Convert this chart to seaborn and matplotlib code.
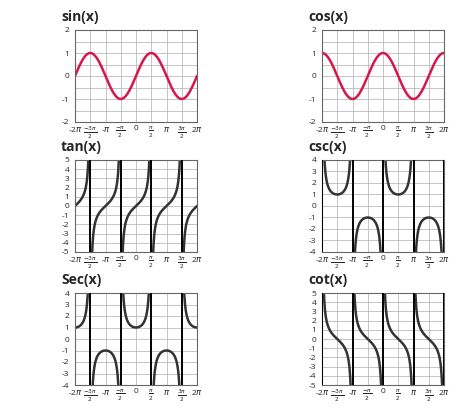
import numpy as np
import matplotlib
matplotlib.use("Agg")
import matplotlib.pyplot as plt
import seaborn as sns

sns.set_style("white")
plt.rcParams['font.family'] = ['Open Sans', 'DejaVu Sans']

titles = ["sin(x)", "cos(x)", "tan(x)", "csc(x)", "Sec(x)", "cot(x)"]
funcs = ["sin", "cos", "tan", "csc", "sec", "cot"]
ylims = [(-2, 2), (-2, 2), (-5, 5), (-4, 4), (-4, 4), (-5, 5)]
ygrid = [0.5, 0.5, 1, 1, 1, 1]
colors = ["#d6174a", "#d6174a", "#333333", "#333333", "#333333", "#333333"]
tick_pos = [-2, -1.5, -1, -0.5, 0, 0.5, 1, 1.5, 2]  # multiples of pi
tick_labels = [r"-2$\pi$", r"$\frac{-3\pi}{2}$", r"-$\pi$", r"$\frac{-\pi}{2}$", "0",
               r"$\frac{\pi}{2}$", r"$\pi$", r"$\frac{3\pi}{2}$", r"2$\pi$"]

fig = plt.figure(figsize=(4.74, 4.12), dpi=100)
boxes = [(75, 30), (322, 30), (75, 160), (322, 160), (75, 293), (322, 293)]
W, H = 122, 92

def f(name, x):
    return {"sin": np.sin, "cos": np.cos, "tan": np.tan,
            "csc": lambda t: 1/np.sin(t), "sec": lambda t: 1/np.cos(t),
            "cot": lambda t: 1/np.tan(t)}[name](x)

def poles(name):
    k = np.arange(-8, 9)
    if name in ("tan", "sec"):
        p = (k + 0.5) * np.pi
    elif name in ("csc", "cot"):
        p = k * np.pi
    else:
        return []
    return [v for v in p if -2*np.pi - 1e-9 <= v <= 2*np.pi + 1e-9]

for i, name in enumerate(funcs):
    x0, y0 = boxes[i]
    ax = fig.add_axes([x0/474, 1 - (y0+H)/412, W/474, H/412])
    lo, hi = ylims[i]
    ps = poles(name)
    edges = sorted(set([-2*np.pi, 2*np.pi] + ps))
    for a, b in zip(edges[:-1], edges[1:]):
        xs = np.linspace(a + 1e-4, b - 1e-4, 400)
        ys = f(name, xs)
        m = (ys >= lo - 0.5) & (ys <= hi + 0.5)
        sns.lineplot(x=xs[m], y=np.clip(ys[m], lo - 0.5, hi + 0.5), ax=ax,
                     color=colors[i], lw=1.8, sort=False, estimator=None)
    for p in ps:
        ax.axvline(p, color="black", lw=1.4, zorder=3)
    ax.set_xlim(-2*np.pi, 2*np.pi)
    ax.set_ylim(lo, hi)
    ax.set_xticks(np.array(tick_pos) * np.pi)
    ax.set_xticklabels(tick_labels, fontsize=6)
    ax.set_yticks(np.arange(lo, hi + 0.01, 1))
    ax.set_yticklabels([str(int(v)) for v in np.arange(lo, hi + 0.01, 1)], fontsize=6)
    ax.set_yticks(np.arange(lo, hi + 0.01, ygrid[i]), minor=True)
    ax.grid(True, which="both", color="#bbbbbb", lw=0.6)
    ax.tick_params(length=0, pad=2)
    ax.tick_params(axis="y", pad=4)
    for s in ax.spines.values():
        s.set_color("#666666"); s.set_linewidth(0.8)
    ax.set_xlabel(""); ax.set_ylabel("")
    fig.text((x0 - 14)/474, 1 - (y0 - 6)/412, titles[i], fontsize=10, fontweight="bold",
             va="bottom", ha="left")

fig.savefig("out.png", dpi=100)
